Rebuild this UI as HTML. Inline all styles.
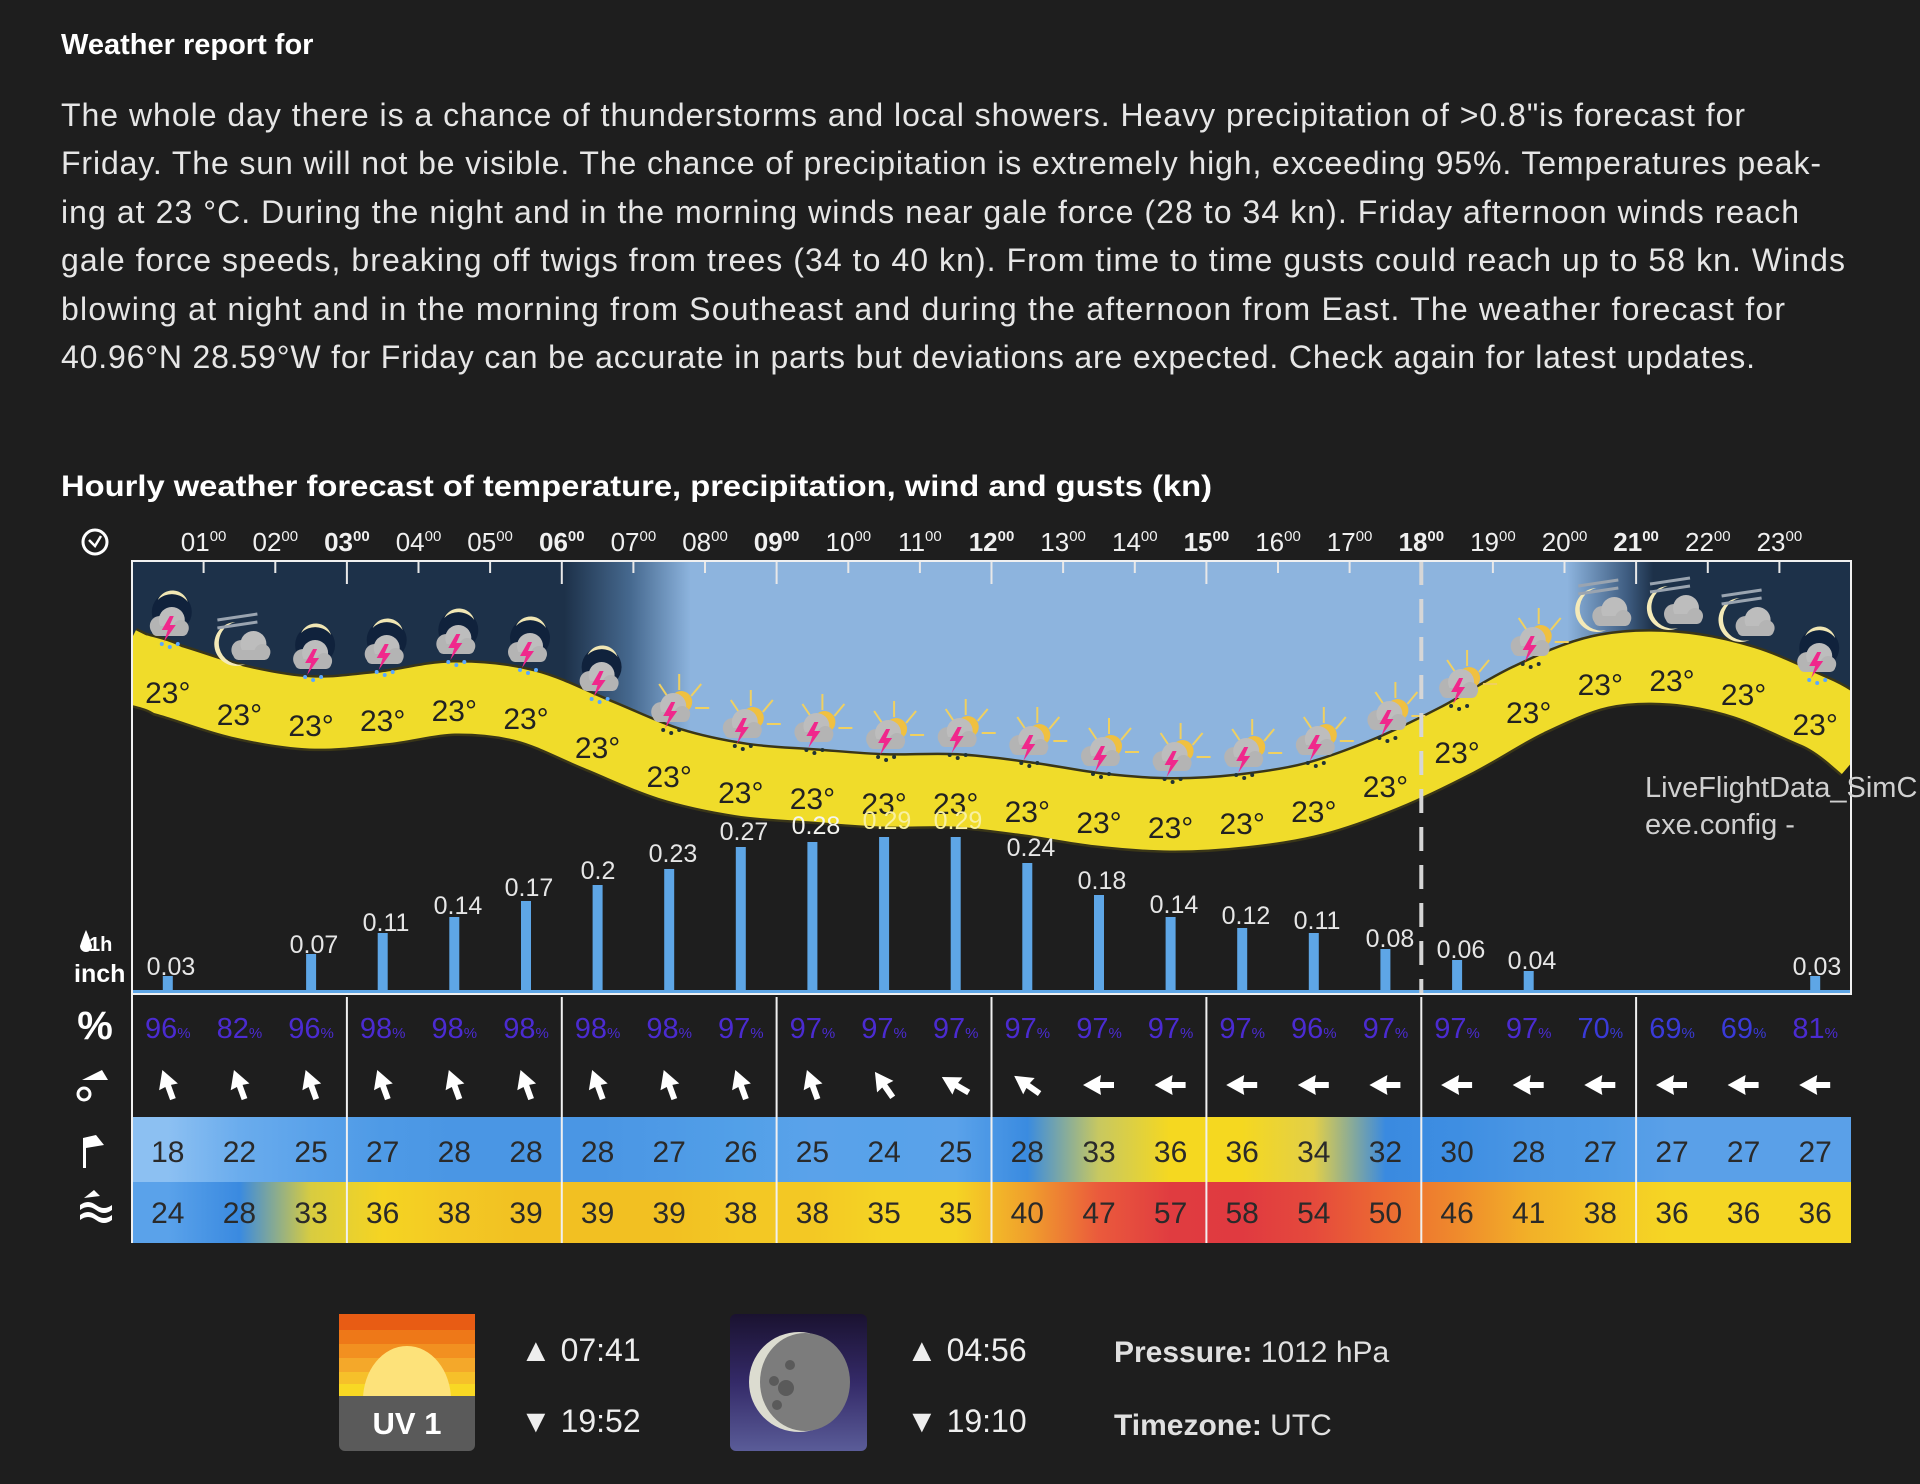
<!DOCTYPE html>
<html><head><meta charset="utf-8"><style>
html,body{margin:0;padding:0;background:#1e1e1e;}
svg{display:block;}
text{font-family:"Liberation Sans",sans-serif;}
</style></head><body>
<svg width="1920" height="1484" viewBox="0 0 1920 1484" xmlns="http://www.w3.org/2000/svg">
<defs>
<clipPath id="cc"><rect x="132" y="561" width="1719" height="433"/></clipPath>
<linearGradient id="sky" x1="132" x2="1851" y1="0" y2="0" gradientUnits="userSpaceOnUse">
<stop offset="0" stop-color="#1d3149"/><stop offset="0.2515" stop-color="#1d3149"/>
<stop offset="0.29" stop-color="#46698f"/><stop offset="0.325" stop-color="#8db4de"/>
<stop offset="0.835" stop-color="#8db4de"/><stop offset="0.87" stop-color="#3e5c80"/>
<stop offset="0.885" stop-color="#1d3149"/><stop offset="1" stop-color="#1d3149"/>
</linearGradient>
<linearGradient id="gw" x1="132" x2="1851" y1="0" y2="0" gradientUnits="userSpaceOnUse">
<stop offset="0.0208" stop-color="#8cc0f2"/><stop offset="0.0625" stop-color="#6aaced"/><stop offset="0.1042" stop-color="#5aa2ea"/>
<stop offset="0.1458" stop-color="#4e9ae6"/><stop offset="0.1875" stop-color="#4a96e4"/><stop offset="0.2292" stop-color="#4a96e4"/>
<stop offset="0.2708" stop-color="#4a96e4"/><stop offset="0.3125" stop-color="#4e9ae6"/><stop offset="0.3542" stop-color="#52a0e8"/>
<stop offset="0.3958" stop-color="#5aa2ea"/><stop offset="0.4375" stop-color="#58a2ea"/><stop offset="0.4792" stop-color="#5aa2ea"/>
<stop offset="0.5208" stop-color="#3a8be0"/><stop offset="0.5625" stop-color="#c8c860"/><stop offset="0.6042" stop-color="#f5d820"/>
<stop offset="0.6458" stop-color="#f5d820"/><stop offset="0.6875" stop-color="#e2cf48"/><stop offset="0.7292" stop-color="#3a8ae0"/>
<stop offset="0.7708" stop-color="#3e8ee2"/><stop offset="0.8125" stop-color="#4a96e4"/><stop offset="0.8542" stop-color="#4e9ae6"/>
<stop offset="0.8958" stop-color="#5aa0e8"/><stop offset="0.9375" stop-color="#5aa0e8"/><stop offset="0.9792" stop-color="#5aa0e8"/>
</linearGradient>
<linearGradient id="gg" x1="132" x2="1851" y1="0" y2="0" gradientUnits="userSpaceOnUse">
<stop offset="0.0208" stop-color="#5aa2ea"/><stop offset="0.0625" stop-color="#3a8ae0"/><stop offset="0.1042" stop-color="#d8cc40"/>
<stop offset="0.1458" stop-color="#f5d422"/><stop offset="0.1875" stop-color="#f3c824"/><stop offset="0.2292" stop-color="#f2c022"/>
<stop offset="0.2708" stop-color="#f2c022"/><stop offset="0.3125" stop-color="#f2c022"/><stop offset="0.3542" stop-color="#f3c824"/>
<stop offset="0.3958" stop-color="#f3c824"/><stop offset="0.4375" stop-color="#f5d424"/><stop offset="0.4792" stop-color="#f5d424"/>
<stop offset="0.5208" stop-color="#f0a02c"/><stop offset="0.5625" stop-color="#ea5a3c"/><stop offset="0.6042" stop-color="#e03c40"/>
<stop offset="0.6458" stop-color="#e03a40"/><stop offset="0.6875" stop-color="#e54a3c"/><stop offset="0.7292" stop-color="#ec6a32"/>
<stop offset="0.7708" stop-color="#ef8a2c"/><stop offset="0.8125" stop-color="#f2b028"/><stop offset="0.8542" stop-color="#f4c626"/>
<stop offset="0.8958" stop-color="#f5d624"/><stop offset="0.9375" stop-color="#f5d624"/><stop offset="0.9792" stop-color="#f5d624"/>
</linearGradient>
<linearGradient id="moonbg" x1="0" x2="0" y1="0" y2="1">
<stop offset="0" stop-color="#1a1230"/><stop offset="0.5" stop-color="#342a68"/><stop offset="1" stop-color="#5a5c98"/>
</linearGradient>
<path id="bp" d="M120 662 L132 668 C144 672 156 673.3 167.8 680 C191.7 686.7 215.5 696.5 239.4 702 C263.3 707.5 287.2 712 311.1 713 C335 714 358.8 710.5 382.7 708 C406.6 705.5 430.4 698.3 454.3 698 C478.2 697.7 502.1 699.8 526 706 C549.9 712.2 573.7 725.3 597.6 735 C621.5 744.7 645.3 756.5 669.2 764 C693.1 771.5 716.9 776.3 740.8 780 C764.7 783.7 788.5 784.2 812.4 786 C836.3 787.8 860.2 790.2 884.1 791 C908 791.8 931.8 789.7 955.7 791 C979.6 792.3 1003.4 795.8 1027.3 799 C1051.2 802.2 1075.1 807.3 1099 810 C1122.9 812.7 1146.7 814.8 1170.6 815 C1194.5 815.2 1218.3 813.7 1242.2 811 C1266.1 808.3 1289.9 805.2 1313.8 799 C1337.7 792.8 1361.5 783.8 1385.4 774 C1409.3 764.2 1433.2 752.3 1457.1 740 C1481 727.7 1504.8 711.3 1528.7 700 C1552.6 688.7 1576.4 677.3 1600.3 672 C1624.2 666.7 1648.1 666.3 1672 668 C1695.9 669.7 1719.7 674.7 1743.6 682 C1767.5 689.3 1791.3 702 1815.2 712 C1827 717 1839 725 1851 735 L1865 747"/>
<g id="cloud"><circle cx="-8" cy="4" r="10" fill="#b4b4b4"/><circle cx="4" cy="-2" r="13" fill="#bdbdbd"/><circle cx="13" cy="6" r="8" fill="#b4b4b4"/><rect x="-16" y="4" width="36" height="10" rx="5" fill="#b4b4b4"/></g>
<g id="bolt"><polygon points="2,-6 -6,8 0,8 -4,20 8,3 2,3 6,-6" fill="#f0288c"/></g>
<g id="nt"><circle cx="4" cy="-10" r="20" fill="#10223c"/><path d="M-10,-22 A20,20 0 0 1 20,-20 A16,16 0 0 0 -10,-22Z" fill="#f0e6b4"/><use href="#cloud"/><use href="#bolt"/><circle cx="-6" cy="22" r="2" fill="#5aa8ff"/><circle cx="10" cy="22" r="2" fill="#5aa8ff"/><circle cx="2" cy="25" r="2" fill="#5aa8ff"/></g>
<g id="dt"><g stroke="#f0d060" stroke-width="2"><line x1="10" y1="-18" x2="10" y2="-34"/><line x1="22" y1="-12" x2="32" y2="-24"/><line x1="26" y1="0" x2="40" y2="0"/><line x1="-2" y1="-12" x2="-10" y2="-24"/></g><circle cx="12" cy="-6" r="11" fill="#f0c040"/><use href="#cloud"/><use href="#bolt"/><circle cx="-6" cy="22" r="2" fill="#233"/><circle cx="10" cy="22" r="2" fill="#233"/><circle cx="2" cy="25" r="2" fill="#233"/></g>
<g id="nm"><path d="M-4,-22 A22,22 0 1 0 6,20 A18,18 0 1 1 -4,-22Z" fill="#f4eab8"/><use href="#cloud" transform="translate(10,2)"/><g stroke="#9aa4b0" stroke-width="3"><line x1="-22" y1="-24" x2="18" y2="-30"/><line x1="-22" y1="-16" x2="18" y2="-22"/></g></g>
<g id="arr"><polygon points="0,-16 10,2 3,1 3,15 -3,15 -3,1 -10,2" fill="#ffffff"/></g>
</defs>
<rect width="1920" height="1484" fill="#1e1e1e"/>
<text x="61" y="54" font-size="29" font-weight="bold" fill="#ffffff">Weather report for</text>
<g font-size="32" fill="#e6e6e6">
<text x="61" y="126" textLength="1684" lengthAdjust="spacing">The whole day there is a chance of thunderstorms and local showers. Heavy precipitation of &gt;0.8&quot;is forecast for</text>
<text x="61" y="174" textLength="1760" lengthAdjust="spacing">Friday. The sun will not be visible. The chance of precipitation is extremely high, exceeding 95%. Temperatures peak-</text>
<text x="61" y="223" textLength="1738" lengthAdjust="spacing">ing at 23 °C. During the night and in the morning winds near gale force (28 to 34 kn). Friday afternoon winds reach</text>
<text x="61" y="271" textLength="1784" lengthAdjust="spacing">gale force speeds, breaking off twigs from trees (34 to 40 kn). From time to time gusts could reach up to 58 kn. Winds</text>
<text x="61" y="320" textLength="1724" lengthAdjust="spacing">blowing at night and in the morning from Southeast and during the afternoon from East. The weather forecast for</text>
<text x="61" y="368" textLength="1694" lengthAdjust="spacing">40.96°N 28.59°W for Friday can be accurate in parts but deviations are expected. Check again for latest updates.</text>
</g>
<text x="61" y="496" font-size="30" font-weight="bold" fill="#ffffff" textLength="1151" lengthAdjust="spacingAndGlyphs">Hourly weather forecast of temperature, precipitation, wind and gusts (kn)</text>
<circle cx="95" cy="542" r="12" fill="none" stroke="#fff" stroke-width="3"/><polyline points="89,540 95,546 101,536" fill="none" stroke="#fff" stroke-width="2.5"/>
<g font-size="26" fill="#f0f0f0" text-anchor="middle">
<text x="203.6" y="551">01<tspan font-size="15" dy="-10">00</tspan></text>
<text x="275.3" y="551">02<tspan font-size="15" dy="-10">00</tspan></text>
<text x="346.9" y="551" font-weight="bold">03<tspan font-size="15" dy="-10">00</tspan></text>
<text x="418.5" y="551">04<tspan font-size="15" dy="-10">00</tspan></text>
<text x="490.1" y="551">05<tspan font-size="15" dy="-10">00</tspan></text>
<text x="561.8" y="551" font-weight="bold">06<tspan font-size="15" dy="-10">00</tspan></text>
<text x="633.4" y="551">07<tspan font-size="15" dy="-10">00</tspan></text>
<text x="705.0" y="551">08<tspan font-size="15" dy="-10">00</tspan></text>
<text x="776.6" y="551" font-weight="bold">09<tspan font-size="15" dy="-10">00</tspan></text>
<text x="848.3" y="551">10<tspan font-size="15" dy="-10">00</tspan></text>
<text x="919.9" y="551">11<tspan font-size="15" dy="-10">00</tspan></text>
<text x="991.5" y="551" font-weight="bold">12<tspan font-size="15" dy="-10">00</tspan></text>
<text x="1063.1" y="551">13<tspan font-size="15" dy="-10">00</tspan></text>
<text x="1134.8" y="551">14<tspan font-size="15" dy="-10">00</tspan></text>
<text x="1206.4" y="551" font-weight="bold">15<tspan font-size="15" dy="-10">00</tspan></text>
<text x="1278.0" y="551">16<tspan font-size="15" dy="-10">00</tspan></text>
<text x="1349.6" y="551">17<tspan font-size="15" dy="-10">00</tspan></text>
<text x="1421.3" y="551" font-weight="bold">18<tspan font-size="15" dy="-10">00</tspan></text>
<text x="1492.9" y="551">19<tspan font-size="15" dy="-10">00</tspan></text>
<text x="1564.5" y="551">20<tspan font-size="15" dy="-10">00</tspan></text>
<text x="1636.1" y="551" font-weight="bold">21<tspan font-size="15" dy="-10">00</tspan></text>
<text x="1707.8" y="551">22<tspan font-size="15" dy="-10">00</tspan></text>
<text x="1779.4" y="551">23<tspan font-size="15" dy="-10">00</tspan></text>
</g>
<g clip-path="url(#cc)">
<rect x="132" y="561" width="1719" height="433" fill="url(#sky)"/>
<path d="M132 668 C144 672 156 673.3 167.8 680 C191.7 686.7 215.5 696.5 239.4 702 C263.3 707.5 287.2 712 311.1 713 C335 714 358.8 710.5 382.7 708 C406.6 705.5 430.4 698.3 454.3 698 C478.2 697.7 502.1 699.8 526 706 C549.9 712.2 573.7 725.3 597.6 735 C621.5 744.7 645.3 756.5 669.2 764 C693.1 771.5 716.9 776.3 740.8 780 C764.7 783.7 788.5 784.2 812.4 786 C836.3 787.8 860.2 790.2 884.1 791 C908 791.8 931.8 789.7 955.7 791 C979.6 792.3 1003.4 795.8 1027.3 799 C1051.2 802.2 1075.1 807.3 1099 810 C1122.9 812.7 1146.7 814.8 1170.6 815 C1194.5 815.2 1218.3 813.7 1242.2 811 C1266.1 808.3 1289.9 805.2 1313.8 799 C1337.7 792.8 1361.5 783.8 1385.4 774 C1409.3 764.2 1433.2 752.3 1457.1 740 C1481 727.7 1504.8 711.3 1528.7 700 C1552.6 688.7 1576.4 677.3 1600.3 672 C1624.2 666.7 1648.1 666.3 1672 668 C1695.9 669.7 1719.7 674.7 1743.6 682 C1767.5 689.3 1791.3 702 1815.2 712 C1827 717 1839 725 1851 735 L1851 1000 L132 1000 Z" fill="#1e1e1e"/>
<use href="#bp" fill="none" stroke="#3a3618" stroke-width="76"/>
<use href="#bp" fill="none" stroke="#f0dc2a" stroke-width="71"/>
<use href="#nt" x="167.8" y="622"/>
<use href="#nm" x="239.4" y="644"/>
<use href="#nt" x="311.1" y="655"/>
<use href="#nt" x="382.7" y="650"/>
<use href="#nt" x="454.3" y="640"/>
<use href="#nt" x="526.0" y="648"/>
<use href="#nt" x="597.6" y="677"/>
<use href="#dt" x="669.2" y="708"/>
<use href="#dt" x="740.8" y="724"/>
<use href="#dt" x="812.4" y="728"/>
<use href="#dt" x="884.1" y="735"/>
<use href="#dt" x="955.7" y="733"/>
<use href="#dt" x="1027.3" y="741"/>
<use href="#dt" x="1099.0" y="752"/>
<use href="#dt" x="1170.6" y="757"/>
<use href="#dt" x="1242.2" y="753"/>
<use href="#dt" x="1313.8" y="741"/>
<use href="#dt" x="1385.4" y="716"/>
<use href="#dt" x="1457.1" y="684"/>
<use href="#dt" x="1528.7" y="642"/>
<use href="#nm" x="1600.3" y="610"/>
<use href="#nm" x="1672.0" y="608"/>
<use href="#nm" x="1743.6" y="620"/>
<use href="#nt" x="1815.2" y="658"/>
<g font-size="30" fill="#222" text-anchor="middle">
<text x="167.8" y="703">23°</text><text x="239.4" y="725">23°</text><text x="311.1" y="736">23°</text><text x="382.7" y="731">23°</text>
<text x="454.3" y="721">23°</text><text x="526.0" y="729">23°</text><text x="597.6" y="758">23°</text><text x="669.2" y="787">23°</text>
<text x="740.8" y="803">23°</text><text x="812.4" y="809">23°</text><text x="884.1" y="814">23°</text><text x="955.7" y="814">23°</text>
<text x="1027.3" y="822">23°</text><text x="1099.0" y="833">23°</text><text x="1170.6" y="838">23°</text><text x="1242.2" y="834">23°</text>
<text x="1313.8" y="822">23°</text><text x="1385.4" y="797">23°</text><text x="1457.1" y="763">23°</text><text x="1528.7" y="723">23°</text>
<text x="1600.3" y="695">23°</text><text x="1672.0" y="691">23°</text><text x="1743.6" y="705">23°</text><text x="1815.2" y="735">23°</text>
</g>
<g fill="#5ea6e6">
<rect x="162.8" y="976" width="10" height="18"/><rect x="306.1" y="954" width="10" height="40"/><rect x="377.7" y="933" width="10" height="61"/>
<rect x="449.3" y="917" width="10" height="77"/><rect x="521" y="901" width="10" height="93"/><rect x="592.6" y="885" width="10" height="109"/>
<rect x="664.2" y="869" width="10" height="125"/><rect x="735.8" y="847" width="10" height="147"/><rect x="807.4" y="842" width="10" height="152"/>
<rect x="879.1" y="837" width="10" height="157"/><rect x="950.7" y="837" width="10" height="157"/><rect x="1022.3" y="863" width="10" height="131"/>
<rect x="1094" y="895" width="10" height="99"/><rect x="1165.6" y="917" width="10" height="77"/><rect x="1237.2" y="928" width="10" height="66"/>
<rect x="1308.8" y="933" width="10" height="61"/><rect x="1380.4" y="949" width="10" height="45"/><rect x="1452.1" y="960" width="10" height="34"/>
<rect x="1523.7" y="971" width="10" height="23"/><rect x="1810.2" y="976" width="10" height="18"/>
<rect x="132" y="990" width="1719" height="5"/>
</g>
<g font-size="25" fill="#e6e6e6" text-anchor="middle">
<text x="171" y="975">0.03</text><text x="314" y="953">0.07</text><text x="386" y="931">0.11</text><text x="458" y="914">0.14</text>
<text x="529" y="896">0.17</text><text x="598" y="879">0.2</text><text x="673" y="862">0.23</text><text x="744" y="840">0.27</text>
<text x="816" y="834" fill="#f4f4f0">0.28</text><text x="887" y="829" fill="#f8f0a0">0.29</text><text x="958" y="829" fill="#f8f0a0">0.29</text><text x="1031" y="856">0.24</text>
<text x="1102" y="889">0.18</text><text x="1174" y="913">0.14</text><text x="1246" y="924">0.12</text><text x="1317" y="929">0.11</text>
<text x="1390" y="947">0.08</text><text x="1461" y="958">0.06</text><text x="1532" y="969">0.04</text><text x="1817" y="975">0.03</text>
</g>
<line x1="1421.3" y1="561" x2="1421.3" y2="994" stroke="#d6d6d6" stroke-width="4" stroke-dasharray="24 14"/>
<g stroke="#e8e8e8" stroke-width="2">
<line x1="203.6" y1="561" x2="203.6" y2="573"/><line x1="275.3" y1="561" x2="275.3" y2="573"/><line x1="346.9" y1="561" x2="346.9" y2="584"/>
<line x1="418.5" y1="561" x2="418.5" y2="573"/><line x1="490.1" y1="561" x2="490.1" y2="573"/><line x1="561.8" y1="561" x2="561.8" y2="584"/>
<line x1="633.4" y1="561" x2="633.4" y2="573"/><line x1="705" y1="561" x2="705" y2="573"/><line x1="776.6" y1="561" x2="776.6" y2="584"/>
<line x1="848.3" y1="561" x2="848.3" y2="573"/><line x1="919.9" y1="561" x2="919.9" y2="573"/><line x1="991.5" y1="561" x2="991.5" y2="584"/>
<line x1="1063.1" y1="561" x2="1063.1" y2="573"/><line x1="1134.8" y1="561" x2="1134.8" y2="573"/><line x1="1206.4" y1="561" x2="1206.4" y2="584"/>
<line x1="1278" y1="561" x2="1278" y2="573"/><line x1="1349.6" y1="561" x2="1349.6" y2="573"/>
<line x1="1492.9" y1="561" x2="1492.9" y2="573"/><line x1="1564.5" y1="561" x2="1564.5" y2="573"/><line x1="1636.1" y1="561" x2="1636.1" y2="584"/>
<line x1="1707.8" y1="561" x2="1707.8" y2="573"/><line x1="1779.4" y1="561" x2="1779.4" y2="573"/>
</g>
</g>
<rect x="132" y="561" width="1719" height="433" fill="none" stroke="#f0f0f0" stroke-width="2"/>
<rect x="132" y="1117" width="1719" height="65" fill="url(#gw)"/>
<rect x="132" y="1182" width="1719" height="61" fill="url(#gg)"/>
<g stroke="#f0f0f0" stroke-width="2">
<line x1="132" y1="994" x2="132" y2="1243"/>
<line x1="346.9" y1="997" x2="346.9" y2="1243"/><line x1="561.8" y1="997" x2="561.8" y2="1243"/><line x1="776.6" y1="997" x2="776.6" y2="1243"/>
<line x1="991.5" y1="997" x2="991.5" y2="1243"/><line x1="1206.4" y1="997" x2="1206.4" y2="1243"/><line x1="1421.3" y1="997" x2="1421.3" y2="1243"/>
<line x1="1636.1" y1="997" x2="1636.1" y2="1243"/>
</g>
<g font-size="29" fill="#4b2bd1" text-anchor="middle">
<text x="167.8" y="1038">96<tspan font-size="15">%</tspan></text><text x="239.4" y="1038">82<tspan font-size="15">%</tspan></text><text x="311.1" y="1038">96<tspan font-size="15">%</tspan></text>
<text x="382.7" y="1038">98<tspan font-size="15">%</tspan></text><text x="454.3" y="1038">98<tspan font-size="15">%</tspan></text><text x="526.0" y="1038">98<tspan font-size="15">%</tspan></text>
<text x="597.6" y="1038">98<tspan font-size="15">%</tspan></text><text x="669.2" y="1038">98<tspan font-size="15">%</tspan></text><text x="740.8" y="1038">97<tspan font-size="15">%</tspan></text>
<text x="812.4" y="1038">97<tspan font-size="15">%</tspan></text><text x="884.1" y="1038">97<tspan font-size="15">%</tspan></text><text x="955.7" y="1038">97<tspan font-size="15">%</tspan></text>
<text x="1027.3" y="1038">97<tspan font-size="15">%</tspan></text><text x="1099.0" y="1038">97<tspan font-size="15">%</tspan></text><text x="1170.6" y="1038">97<tspan font-size="15">%</tspan></text>
<text x="1242.2" y="1038">97<tspan font-size="15">%</tspan></text><text x="1313.8" y="1038">96<tspan font-size="15">%</tspan></text><text x="1385.4" y="1038">97<tspan font-size="15">%</tspan></text>
<text x="1457.1" y="1038">97<tspan font-size="15">%</tspan></text><text x="1528.7" y="1038">97<tspan font-size="15">%</tspan></text><text x="1600.3" y="1038" fill="#3a3ad8">70<tspan font-size="15">%</tspan></text>
<text x="1672.0" y="1038" fill="#3a3ad8">69<tspan font-size="15">%</tspan></text><text x="1743.6" y="1038" fill="#3a3ad8">69<tspan font-size="15">%</tspan></text><text x="1815.2" y="1038">81<tspan font-size="15">%</tspan></text>
</g>
<g>
<use href="#arr" transform="translate(167.8,1085) rotate(-20)"/><use href="#arr" transform="translate(239.4,1085) rotate(-20)"/><use href="#arr" transform="translate(311.1,1085) rotate(-20)"/>
<use href="#arr" transform="translate(382.7,1085) rotate(-20)"/><use href="#arr" transform="translate(454.3,1085) rotate(-20)"/><use href="#arr" transform="translate(526,1085) rotate(-20)"/>
<use href="#arr" transform="translate(597.6,1085) rotate(-20)"/><use href="#arr" transform="translate(669.2,1085) rotate(-20)"/><use href="#arr" transform="translate(740.8,1085) rotate(-20)"/>
<use href="#arr" transform="translate(812.4,1085) rotate(-20)"/><use href="#arr" transform="translate(884.1,1085) rotate(-35)"/><use href="#arr" transform="translate(955.7,1085) rotate(-60)"/>
<use href="#arr" transform="translate(1027.3,1085) rotate(-55)"/><use href="#arr" transform="translate(1099,1085) rotate(-90)"/><use href="#arr" transform="translate(1170.6,1085) rotate(-90)"/>
<use href="#arr" transform="translate(1242.2,1085) rotate(-90)"/><use href="#arr" transform="translate(1313.8,1085) rotate(-90)"/><use href="#arr" transform="translate(1385.4,1085) rotate(-90)"/>
<use href="#arr" transform="translate(1457.1,1085) rotate(-90)"/><use href="#arr" transform="translate(1528.7,1085) rotate(-90)"/><use href="#arr" transform="translate(1600.3,1085) rotate(-90)"/>
<use href="#arr" transform="translate(1672,1085) rotate(-90)"/><use href="#arr" transform="translate(1743.6,1085) rotate(-90)"/><use href="#arr" transform="translate(1815.2,1085) rotate(-90)"/>
</g>
<g font-size="30" fill="#2a2a2a" text-anchor="middle">
<text x="167.8" y="1162">18</text><text x="239.4" y="1162">22</text><text x="311.1" y="1162">25</text><text x="382.7" y="1162">27</text>
<text x="454.3" y="1162">28</text><text x="526.0" y="1162">28</text><text x="597.6" y="1162">28</text><text x="669.2" y="1162">27</text>
<text x="740.8" y="1162">26</text><text x="812.4" y="1162">25</text><text x="884.1" y="1162">24</text><text x="955.7" y="1162">25</text>
<text x="1027.3" y="1162">28</text><text x="1099.0" y="1162">33</text><text x="1170.6" y="1162">36</text><text x="1242.2" y="1162">36</text>
<text x="1313.8" y="1162">34</text><text x="1385.4" y="1162">32</text><text x="1457.1" y="1162">30</text><text x="1528.7" y="1162">28</text>
<text x="1600.3" y="1162">27</text><text x="1672.0" y="1162">27</text><text x="1743.6" y="1162">27</text><text x="1815.2" y="1162">27</text>
<text x="167.8" y="1223">24</text><text x="239.4" y="1223">28</text><text x="311.1" y="1223">33</text><text x="382.7" y="1223">36</text>
<text x="454.3" y="1223">38</text><text x="526.0" y="1223">39</text><text x="597.6" y="1223">39</text><text x="669.2" y="1223">39</text>
<text x="740.8" y="1223">38</text><text x="812.4" y="1223">38</text><text x="884.1" y="1223">35</text><text x="955.7" y="1223">35</text>
<text x="1027.3" y="1223">40</text><text x="1099.0" y="1223">47</text><text x="1170.6" y="1223">57</text><text x="1242.2" y="1223">58</text>
<text x="1313.8" y="1223">54</text><text x="1385.4" y="1223">50</text><text x="1457.1" y="1223">46</text><text x="1528.7" y="1223">41</text>
<text x="1600.3" y="1223">38</text><text x="1672.0" y="1223">36</text><text x="1743.6" y="1223">36</text><text x="1815.2" y="1223">36</text>
</g>
<g fill="#ffffff">
<path d="M80 946 q4 -12 6 -16 q2 4 6 16 a6 6 0 0 1 -12 0z"/>
<text x="89" y="951" font-size="20" font-weight="bold">1h</text>
<text x="74" y="982" font-size="25" font-weight="bold">inch</text>
<text x="95" y="1039" font-size="40" font-weight="bold" text-anchor="middle">%</text>
<path d="M82 1080 l20 -10 l6 10 z"/><circle cx="84" cy="1094" r="6" fill="none" stroke="#fff" stroke-width="3"/>
<path d="M83 1138 l0 30 l3 0 l0 -20 l18 -3 l-8 -10 z"/>
<path d="M80 1205 q8 -6 16 0 q8 6 16 0 l0 5 q-8 6 -16 0 q-8 -6 -16 0z M80 1215 q8 -6 16 0 q8 6 16 0 l0 5 q-8 6 -16 0 q-8 -6 -16 0z M84 1198 l10 -8 l6 6 z"/>
</g>
<g font-size="29" fill="#d0d0d0">
<text x="1645" y="797">LiveFlightData_SimC</text>
<text x="1645" y="834">exe.config -</text>
</g>
<clipPath id="sunc"><rect x="339" y="1314" width="136" height="82"/></clipPath>
<rect x="339" y="1314" width="136" height="137" rx="6" fill="#5a5a5a"/>
<g clip-path="url(#sunc)">
<rect x="339" y="1314" width="136" height="16" fill="#e85c14"/><rect x="339" y="1330" width="136" height="14" fill="#ee7818"/>
<rect x="339" y="1344" width="136" height="14" fill="#f29020"/><rect x="339" y="1358" width="136" height="14" fill="#f4a82a"/>
<rect x="339" y="1372" width="136" height="12" fill="#f6c02a"/><rect x="339" y="1384" width="136" height="12" fill="#f8d824"/>
<ellipse cx="407" cy="1400" rx="44" ry="54" fill="#fde27a"/>
</g>
<text x="407" y="1434" font-size="31" font-weight="bold" fill="#ffffff" text-anchor="middle">UV 1</text>
<g font-size="32" fill="#eeeeee">
<text x="520" y="1361">▲ 07:41</text><text x="520" y="1432">▼ 19:52</text>
<text x="906" y="1361">▲ 04:56</text><text x="906" y="1432">▼ 19:10</text>
</g>
<rect x="730" y="1314" width="137" height="137" rx="6" fill="url(#moonbg)"/>
<circle cx="799" cy="1382" r="50" fill="#dcdcd0"/>
<ellipse cx="805" cy="1382" rx="45" ry="49" fill="#7c7c7c"/>
<circle cx="790" cy="1365" r="5" fill="#5a5a5a"/><circle cx="786" cy="1388" r="8" fill="#5a5a5a"/><circle cx="774" cy="1381" r="5" fill="#5a5a5a"/><circle cx="777" cy="1405" r="5" fill="#5a5a5a"/>
<g font-size="30" fill="#e0e0e0">
<text x="1114" y="1362"><tspan font-weight="bold">Pressure:</tspan> 1012 hPa</text>
<text x="1114" y="1435"><tspan font-weight="bold">Timezone:</tspan> UTC</text>
</g>
</svg>
</body></html>
